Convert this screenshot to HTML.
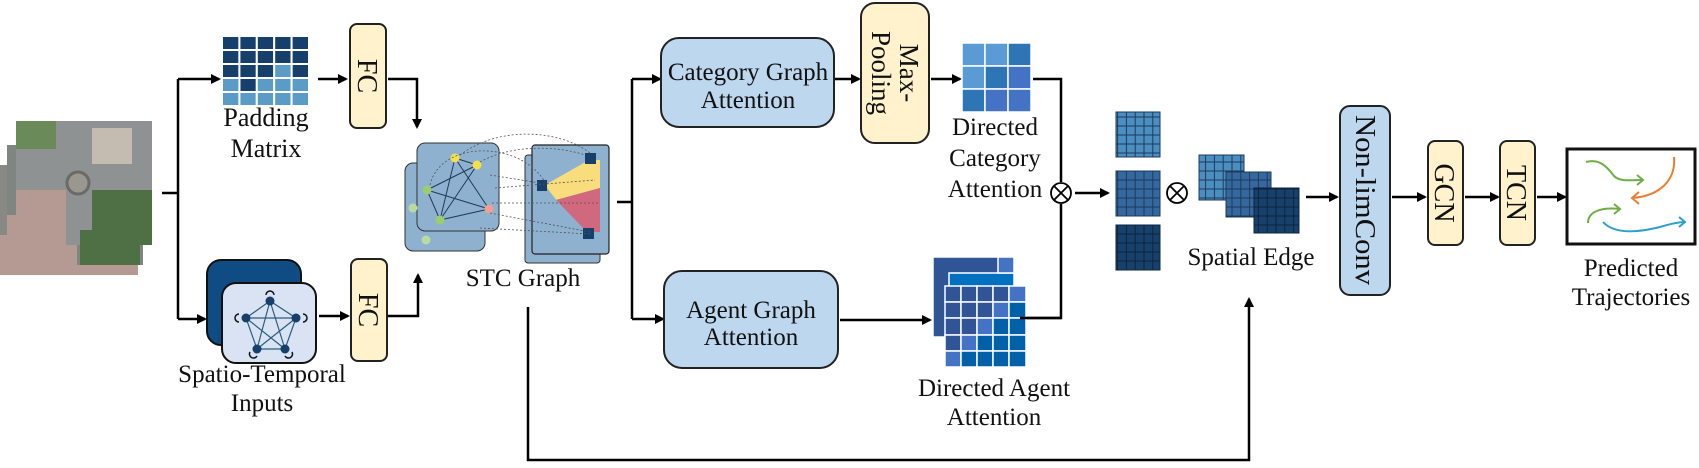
<!DOCTYPE html>
<html><head><meta charset="utf-8"><style>
html,body{margin:0;padding:0;background:#fff;overflow:hidden;}
svg{display:block;}
text{font-family:"Liberation Serif",serif;fill:#111;}
</style></head><body>
<svg width="1699" height="468" viewBox="0 0 1699 468" xmlns="http://www.w3.org/2000/svg">
<defs>
<marker id="ar" markerWidth="10" markerHeight="10" refX="8" refY="5" orient="auto" markerUnits="userSpaceOnUse">
<path d="M0,0 L10,5 L0,10 z" fill="#000"/></marker>
<pattern id="g5a" width="8.8" height="9" patternUnits="userSpaceOnUse"><rect width="8.8" height="9" fill="#4a8fc0" stroke="#1d3a5a" stroke-width="1"/></pattern>
<pattern id="g5b" width="8.8" height="9" patternUnits="userSpaceOnUse"><rect width="8.8" height="9" fill="#34689e" stroke="#1d3a5a" stroke-width="1"/></pattern>
<pattern id="g5c" width="8.8" height="9" patternUnits="userSpaceOnUse"><rect width="8.8" height="9" fill="#17406b" stroke="#0c2440" stroke-width="1"/></pattern>
</defs>

<!-- aerial photos -->
<rect x="0" y="165" width="138" height="110" fill="#8a8884"/>
<rect x="0" y="235" width="138" height="40" fill="#b49a92"/>
<rect x="7" y="145" width="136" height="120" fill="#7f8580"/>
<rect x="7" y="215" width="70" height="50" fill="#b49a92"/>
<rect x="16" y="121" width="136" height="124" fill="#8e9292"/>
<rect x="16" y="121" width="40" height="28" fill="#6b8a5a"/>
<rect x="92" y="128" width="40" height="36" fill="#c4bcb0"/>
<rect x="16" y="190" width="50" height="55" fill="#b49a92"/>
<rect x="92" y="190" width="60" height="55" fill="#4f7045"/>
<rect x="80" y="230" width="60" height="35" fill="#4f7045"/>
<circle cx="78" cy="183" r="11" fill="#9a9690" stroke="#6a6a66" stroke-width="3"/>

<!-- left branching -->
<g stroke="#000" stroke-width="2.5" fill="none">
<path d="M162,193 H178"/>
<path d="M178,79 V319"/>
<path d="M178,79 H219" marker-end="url(#ar)"/>
<path d="M178,319 H205" marker-end="url(#ar)"/>
<path d="M318,79 H346" marker-end="url(#ar)"/>
<path d="M388,79 H417 V127" marker-end="url(#ar)"/>
<path d="M319,316 H348" marker-end="url(#ar)"/>
<path d="M388,316 H418 V275" marker-end="url(#ar)"/>
</g>

<!-- padding matrix -->
<g stroke="#fff" stroke-width="2">
<g fill="#173f6b">
<rect x="222" y="36" width="17.4" height="14"/><rect x="239.4" y="36" width="17.4" height="14"/><rect x="256.8" y="36" width="17.4" height="14"/><rect x="274.2" y="36" width="17.4" height="14"/><rect x="291.6" y="36" width="17.4" height="14"/>
<rect x="222" y="50" width="17.4" height="14"/><rect x="239.4" y="50" width="17.4" height="14"/><rect x="256.8" y="50" width="17.4" height="14"/><rect x="274.2" y="50" width="17.4" height="14"/><rect x="291.6" y="50" width="17.4" height="14"/>
<rect x="222" y="64" width="17.4" height="14"/><rect x="239.4" y="64" width="17.4" height="14"/><rect x="256.8" y="64" width="17.4" height="14"/><rect x="291.6" y="64" width="17.4" height="14"/>
<rect x="239.4" y="78" width="17.4" height="14"/>
</g>
<g fill="#5b9cc6">
<rect x="274.2" y="64" width="17.4" height="14"/>
<rect x="222" y="78" width="17.4" height="14"/><rect x="256.8" y="78" width="17.4" height="14"/><rect x="274.2" y="78" width="17.4" height="14"/><rect x="291.6" y="78" width="17.4" height="14"/>
<rect x="222" y="92" width="17.4" height="14"/><rect x="239.4" y="92" width="17.4" height="14"/><rect x="256.8" y="92" width="17.4" height="14"/><rect x="274.2" y="92" width="17.4" height="14"/><rect x="291.6" y="92" width="17.4" height="14"/>
</g>
</g>
<text x="266" y="126" font-size="26" text-anchor="middle">Padding</text>
<text x="266" y="157" font-size="26" text-anchor="middle">Matrix</text>

<!-- FC boxes -->
<rect x="350" y="24" width="36" height="104" rx="7" fill="#fff2cc" stroke="#222" stroke-width="2"/>
<text transform="translate(368,76) rotate(90)" font-size="28" text-anchor="middle" dy="10">FC</text>
<rect x="351" y="259" width="36" height="102" rx="7" fill="#fff2cc" stroke="#222" stroke-width="2"/>
<text transform="translate(369,310) rotate(90)" font-size="28" text-anchor="middle" dy="10">FC</text>

<!-- spatio-temporal inputs -->
<rect x="207" y="260" width="94" height="85" rx="14" fill="#0f4c84" stroke="#111" stroke-width="2"/>
<rect x="222" y="283" width="94" height="80" rx="14" fill="#d9e3f3" stroke="#111" stroke-width="2"/>
<g stroke="#2a5e7a" stroke-width="1.2" fill="none">
<path d="M270,301 L246,318 L257,349 L285,349 L296,318 Z M270,301 L257,349 M270,301 L285,349 M246,318 L285,349 M246,318 L296,318 M257,349 L296,318"/>
</g>
<g fill="#173f6b"><circle cx="270" cy="301" r="4.5"/><circle cx="246" cy="318" r="4.5"/><circle cx="296" cy="318" r="4.5"/><circle cx="257" cy="349" r="4.5"/><circle cx="285" cy="349" r="4.5"/></g>
<g stroke="#111" stroke-width="1.5" fill="none">
<path d="M266,295 A4,4 0 1 1 274,295"/><path d="M239,314 A4,4 0 1 0 239,322"/><path d="M303,314 A4,4 0 1 1 303,322"/><path d="M250,352 A4,4 0 0 0 257,356"/><path d="M292,352 A4,4 0 0 1 285,356"/>
</g>
<text x="262" y="382" font-size="25" text-anchor="middle">Spatio-Temporal</text>
<text x="262" y="411" font-size="25" text-anchor="middle">Inputs</text>

<!-- STC graph -->
<rect x="405" y="163" width="80" height="88" rx="8" fill="#8fb1d0" stroke="#333" stroke-width="1"/>
<rect x="417" y="143" width="82" height="88" rx="8" fill="#8fb1d0" stroke="#333" stroke-width="1"/>
<g stroke="#1d3a5a" stroke-width="1" fill="none">
<path d="M455,158 L477,165 L427,190 L440,220 L489,209 Z M455,158 L440,220 M455,158 L489,209 M477,165 L440,220 M427,190 L489,209 M477,165 L427,190"/>
</g>
<circle cx="455" cy="158" r="4.5" fill="#f5e04a"/><circle cx="477" cy="165" r="4.5" fill="#f5e04a"/><circle cx="427" cy="190" r="4.5" fill="#9ccc70"/><circle cx="440" cy="220" r="4.5" fill="#9ccc70"/><circle cx="489" cy="209" r="4.5" fill="#f0a090"/><circle cx="413" cy="208" r="4.5" fill="#b8dca0"/><circle cx="426" cy="240" r="4.5" fill="#b8dca0"/>
<rect x="525" y="155" width="75" height="108" rx="3" fill="#8fb1d0" stroke="#333" stroke-width="1"/>
<rect x="532" y="145" width="77" height="109" rx="3" fill="#8fb1d0" stroke="#222" stroke-width="1.2"/>
<path d="M545,185 L589,160 L600,160 L600,188 L556,200 Z" fill="#f9dc7c"/>
<path d="M545,185 L556,200 L562,206 L548,190 Z" fill="#9ccc70"/>
<path d="M556,200 L600,188 L600,232 L587,232 Z" fill="#d0687e"/>
<rect x="537" y="180" width="10" height="11" fill="#173f6b"/><rect x="585" y="153" width="11" height="11" fill="#173f6b"/><rect x="583" y="228" width="11" height="11" fill="#173f6b"/>
<g stroke="#555" stroke-width="0.8" stroke-dasharray="2,2" fill="none">
<path d="M460,155 C500,125 560,130 590,153"/><path d="M480,162 C510,145 555,145 585,155"/><path d="M490,175 L540,183"/><path d="M495,188 L595,180"/><path d="M492,203 L600,203"/><path d="M490,213 L590,232"/><path d="M480,228 L590,234"/><path d="M430,185 C440,140 520,140 545,182"/>
</g>
<text x="523" y="286" font-size="25" text-anchor="middle">STC Graph</text>

<!-- middle connectors -->
<g stroke="#000" stroke-width="2.5" fill="none">
<path d="M617,202 H632"/>
<path d="M632,79 V319"/>
<path d="M632,79 H660" marker-end="url(#ar)"/>
<path d="M632,319 H663" marker-end="url(#ar)"/>
<path d="M835,79 H859" marker-end="url(#ar)"/>
<path d="M931,79 H960" marker-end="url(#ar)"/>
<path d="M1033,79 H1061 V182"/>
<path d="M1061,204 V318 H1020"/>
<path d="M840,320 H930" marker-end="url(#ar)"/>
<path d="M1075,193 H1108" marker-end="url(#ar)"/>
<path d="M528,307 V460 H1249 V299" marker-end="url(#ar)"/>
<path d="M1306,197 H1337" marker-end="url(#ar)"/>
<path d="M1392,197 H1425" marker-end="url(#ar)"/>
<path d="M1465,197 H1498" marker-end="url(#ar)"/>
<path d="M1537,197 H1565" marker-end="url(#ar)"/>
</g>

<!-- category graph attention -->
<rect x="661" y="38" width="173" height="89" rx="18" fill="#bdd7ee" stroke="#222" stroke-width="2"/>
<text x="748" y="80" font-size="25" text-anchor="middle">Category Graph</text>
<text x="748" y="108" font-size="25" text-anchor="middle">Attention</text>
<rect x="861" y="3" width="68" height="140" rx="14" fill="#fff2cc" stroke="#222" stroke-width="2"/>
<text transform="translate(895,73) rotate(90)" font-size="27" text-anchor="middle"><tspan x="0" dy="-5">Max-</tspan><tspan x="0" dy="28">Pooling</tspan></text>

<!-- directed category matrix -->
<g stroke="#fff" stroke-width="1.5">
<rect x="962" y="43" width="23" height="23" fill="#5b9bd5"/><rect x="985" y="43" width="23" height="23" fill="#5b9bd5"/><rect x="1008" y="43" width="23" height="23" fill="#2e75b6"/>
<rect x="962" y="66" width="23" height="23" fill="#5b9bd5"/><rect x="985" y="66" width="23" height="23" fill="#2e75b6"/><rect x="1008" y="66" width="23" height="23" fill="#4472c4"/>
<rect x="962" y="89" width="23" height="23" fill="#2e75b6"/><rect x="985" y="89" width="23" height="23" fill="#4472c4"/><rect x="1008" y="89" width="23" height="23" fill="#4472c4"/>
</g>
<text x="995" y="135" font-size="25" text-anchor="middle">Directed</text>
<text x="995" y="166" font-size="25" text-anchor="middle">Category</text>
<text x="995" y="197" font-size="25" text-anchor="middle">Attention</text>
<g stroke="#000" stroke-width="1.8" fill="none"><circle cx="1061" cy="193" r="10"/><path d="M1054,186 L1068,200 M1068,186 L1054,200"/></g>

<!-- agent graph attention -->
<rect x="664" y="271" width="174" height="97" rx="18" fill="#bdd7ee" stroke="#222" stroke-width="2"/>
<text x="751" y="318" font-size="25" text-anchor="middle">Agent Graph</text>
<text x="751" y="345" font-size="25" text-anchor="middle">Attention</text>
<!-- directed agent matrices -->
<g stroke="#fff" stroke-width="1.5">
<rect x="933" y="257" width="81" height="80" fill="#2f5597"/>
<rect x="949" y="273" width="65" height="16" fill="#0070c0"/>
<rect x="998" y="257" width="16" height="16" fill="#4472c4"/>
</g>
<g stroke="#fff" stroke-width="1.5">
<rect x="945" y="286" width="16" height="16" fill="#2f5597"/><rect x="961" y="286" width="16" height="16" fill="#2f5597"/><rect x="977" y="286" width="16" height="16" fill="#2f5597"/><rect x="993" y="286" width="16" height="16" fill="#2f5597"/><rect x="1009" y="286" width="17" height="16" fill="#4472c4"/>
<rect x="945" y="302" width="16" height="16" fill="#2f5597"/><rect x="961" y="302" width="16" height="16" fill="#2f5597"/><rect x="977" y="302" width="16" height="16" fill="#2f5597"/><rect x="993" y="302" width="16" height="16" fill="#4472c4"/><rect x="1009" y="302" width="17" height="16" fill="#0060a8"/>
<rect x="945" y="318" width="16" height="17" fill="#2f5597"/><rect x="961" y="318" width="16" height="17" fill="#2f5597"/><rect x="977" y="318" width="16" height="17" fill="#4472c4"/><rect x="993" y="318" width="16" height="17" fill="#0060a8"/><rect x="1009" y="318" width="17" height="17" fill="#0060a8"/>
<rect x="945" y="335" width="16" height="16" fill="#2f5597"/><rect x="961" y="335" width="16" height="16" fill="#4472c4"/><rect x="977" y="335" width="16" height="16" fill="#0060a8"/><rect x="993" y="335" width="16" height="16" fill="#0060a8"/><rect x="1009" y="335" width="17" height="16" fill="#0060a8"/>
<rect x="945" y="351" width="16" height="16" fill="#4472c4"/><rect x="961" y="351" width="16" height="16" fill="#0060a8"/><rect x="977" y="351" width="16" height="16" fill="#0060a8"/><rect x="993" y="351" width="16" height="16" fill="#0060a8"/><rect x="1009" y="351" width="17" height="16" fill="#0060a8"/>
</g>
<path d="M1020,318 H1061" stroke="#000" stroke-width="2.5"/>
<text x="994" y="396" font-size="25" text-anchor="middle">Directed Agent</text>
<text x="994" y="425" font-size="25" text-anchor="middle">Attention</text>

<!-- small grids -->
<rect x="1116" y="112" width="44" height="45" fill="url(#g5a)" stroke="#1d3a5a"/>
<rect x="1116" y="171" width="44" height="45" fill="url(#g5b)" stroke="#1d3a5a"/>
<rect x="1116" y="225" width="44" height="45" fill="url(#g5c)" stroke="#0c2440"/>
<g stroke="#000" stroke-width="1.8" fill="none"><circle cx="1177" cy="193" r="10"/><path d="M1170,186 L1184,200 M1184,186 L1170,200"/></g>
<rect x="1199" y="155" width="45" height="45" fill="url(#g5a)" stroke="#1d3a5a"/>
<rect x="1226" y="172" width="45" height="45" fill="url(#g5b)" stroke="#1d3a5a"/>
<rect x="1254" y="188" width="45" height="45" fill="url(#g5c)" stroke="#0c2440"/>
<text x="1251" y="265" font-size="25" text-anchor="middle">Spatial Edge</text>

<!-- Non-limConv, GCN, TCN -->
<rect x="1340" y="106" width="50" height="189" rx="10" fill="#bdd7ee" stroke="#222" stroke-width="2"/>
<text transform="translate(1365,200) rotate(90)" font-size="28" text-anchor="middle" dy="9" textLength="170" lengthAdjust="spacingAndGlyphs">Non-limConv</text>
<rect x="1428" y="141" width="35" height="104" rx="7" fill="#fff2cc" stroke="#222" stroke-width="2"/>
<text transform="translate(1445,193) rotate(90)" font-size="28" text-anchor="middle" dy="10">GCN</text>
<rect x="1500" y="141" width="35" height="104" rx="7" fill="#fff2cc" stroke="#222" stroke-width="2"/>
<text transform="translate(1517,193) rotate(90)" font-size="28" text-anchor="middle" dy="10">TCN</text>

<!-- predicted trajectories -->
<rect x="1567" y="149" width="128" height="95" fill="#fff" stroke="#111" stroke-width="3"/>
<g fill="none" stroke-width="2">
<path d="M1586,162 C1600,158 1608,168 1614,176 C1620,182 1630,180 1643,180" stroke="#70ad47"/>
<path d="M1637,175 L1643,180 L1637,185" stroke="#70ad47"/>
<path d="M1674,157 C1676,180 1660,196 1632,198" stroke="#ed7d31"/>
<path d="M1639,192 L1632,198 L1639,204" stroke="#ed7d31"/>
<path d="M1588,223 C1588,212 1600,207 1620,209" stroke="#70ad47"/>
<path d="M1614,204 L1620,209 L1614,214" stroke="#70ad47"/>
<path d="M1603,222 C1615,235 1640,232 1660,227 C1670,224 1678,222 1685,222" stroke="#2e9fc7"/>
<path d="M1679,217 L1685,222 L1679,227" stroke="#2e9fc7"/>
</g>
<text x="1631" y="276" font-size="25" text-anchor="middle">Predicted</text>
<text x="1631" y="305" font-size="25" text-anchor="middle">Trajectories</text>
</svg>
</body></html>
